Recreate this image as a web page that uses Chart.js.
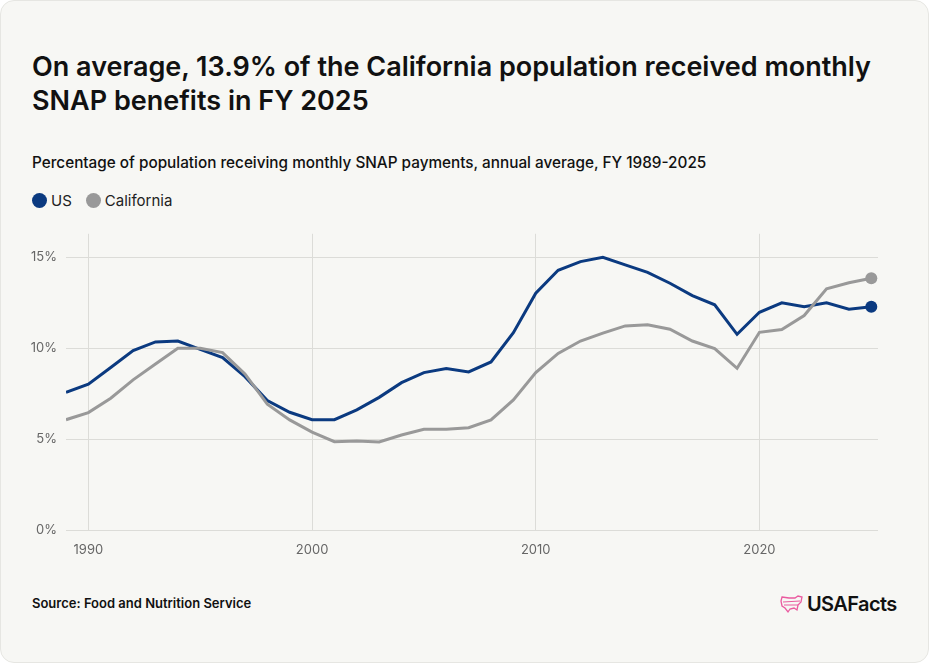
<!DOCTYPE html>
<html>
<head>
<meta charset="utf-8">
<script src="https://cdn.jsdelivr.net/npm/chart.js@4.4.1/dist/chart.umd.min.js"></script>
<style>
  html, body { margin: 0; padding: 0; background: #ffffff; }
  body { width: 929px; height: 663px; position: relative; overflow: hidden; font-family: Inter, "Noto Sans", sans-serif; }
  .card { position: absolute; left: 0; top: 0; width: 927px; height: 661px; background: #f7f7f4; border: 1px solid #e6e6e2; border-radius: 14px; }
  .title { position: absolute; left: 32px; top: 50px; width: 870px; font-size: 27px; line-height: 34px; font-weight: 600; letter-spacing: 0; color: #111; }
  .subtitle { position: absolute; left: 32px; top: 153px; font-size: 15.3px; font-weight: 500; letter-spacing: 0; color: #111; }
  .legend { position: absolute; left: 32px; top: 191px; font-size: 15px; color: #222; display: flex; align-items: center; }
  .legend .dot { width: 15px; height: 15px; border-radius: 50%; display: inline-block; margin-right: 4px; }
  .legend .item { display: flex; align-items: center; margin-right: 14px; }
  .source { position: absolute; left: 32px; top: 595px; font-size: 13px; font-weight: 600; letter-spacing: 0; color: #111; }
  .logo { position: absolute; left: 780px; top: 592px; display: flex; align-items: center; }
  .logo span { font-size: 20px; font-weight: 600; letter-spacing: -0.6px; color: #111; margin-left: 3px; }
  canvas { position: absolute; left: 0; top: 217px; }
</style>
</head>
<body>
<div class="card"></div>
<div class="title">On average, 13.9% of the California population received monthly<br>SNAP benefits in FY 2025</div>
<div class="subtitle">Percentage of population receiving monthly SNAP payments, annual average, FY 1989-2025</div>
<div class="legend">
  <div class="item"><span class="dot" style="background:#0b3a80"></span>US</div>
  <div class="item"><span class="dot" style="background:#999999"></span>California</div>
</div>
<div class="source">Source: Food and Nutrition Service</div>
<div class="logo">
  <svg width="24" height="20" viewBox="0 0 24 20">
    <path d="M2 3 L9 4 L15 4 L18 2 L22 3 L21 8 L18 11 L17 16 L14 14 L10 15 L8 18 L5 14 L2 12 L1 7 Z" fill="none" stroke="#ea5a9f" stroke-width="1.3"/>
    <path d="M3 8 L20 7 M4 11 L18 11" fill="none" stroke="#ea5a9f" stroke-width="1"/>
  </svg>
  <span>USAFacts</span>
</div>
<canvas id="chart" width="929" height="343"></canvas>
<script>
const years = []
for (let y = 1989; y <= 2025; y++) years.push(y)

const usValues = [7.58, 8.02, 8.94, 9.87, 10.35, 10.40, 9.94, 9.49, 8.44, 7.12,
  6.48, 6.07, 6.07, 6.61, 7.30, 8.11, 8.66, 8.88, 8.70, 9.25,
  10.86, 13.03, 14.29, 14.77, 15.01, 14.59, 14.18, 13.58, 12.90, 12.39,
  10.77, 11.98, 12.50, 12.28, 12.50, 12.15, 12.28]

const caValues = [6.07, 6.46, 7.25, 8.26, 9.14, 10.0, 10.0, 9.76, 8.59, 6.92,
  6.06, 5.39, 4.86, 4.90, 4.84, 5.23, 5.54, 5.54, 5.63, 6.06,
  7.16, 8.66, 9.72, 10.40, 10.83, 11.23, 11.30, 11.05, 10.40, 9.98,
  8.90, 10.88, 11.03, 11.80, 13.27, 13.61, 13.85]

const xTicks = [1990, 2000, 2010, 2020]
const yTicks = [0, 5, 10, 15]

function toPoints(values) {
  return values.map((v, i) => ({ x: years[i], y: v }))
}
const last = years.length - 1
const lastOnly = r => ctx => ctx.dataIndex === last ? r : 0

new Chart(document.getElementById("chart"), {
  type: "line",
  data: {
    datasets: [
      {
        label: "California",
        data: toPoints(caValues),
        borderColor: "#999999",
        backgroundColor: "#999999",
        borderWidth: 3,
        pointRadius: lastOnly(6),
        pointHoverRadius: 0,
        pointBorderWidth: 0,
        tension: 0
      },
      {
        label: "US",
        data: toPoints(usValues),
        borderColor: "#0b3a80",
        backgroundColor: "#0b3a80",
        borderWidth: 3,
        pointRadius: lastOnly(6),
        pointHoverRadius: 0,
        pointBorderWidth: 0,
        tension: 0
      }
    ]
  },
  options: {
    responsive: false,
    animation: false,
    layout: { padding: { top: 0, right: 51, left: 0, bottom: 0 } },
    plugins: { legend: { display: false }, tooltip: { enabled: false } },
    scales: {
      x: {
        type: "linear",
        min: 1989,
        max: 2025.3,
        afterBuildTicks: s => { s.ticks = xTicks.map(v => ({ value: v })) },
        afterFit: s => { s.height = 30 },
        grid: { color: "#dcdcd8", lineWidth: 1, drawTicks: false },
        border: { display: false },
        ticks: { color: "#666", font: { family: "Inter", size: 13 }, padding: 12, callback: v => String(v) }
      },
      y: {
        min: 0,
        max: 16.3,
        afterBuildTicks: s => { s.ticks = yTicks.map(v => ({ value: v })) },
        afterFit: s => { s.width = 66 },
        grid: { color: "#dcdcd8", lineWidth: 1, drawTicks: false },
        border: { display: false },
        ticks: { color: "#666", font: { family: "Inter", size: 13 }, padding: 9, callback: v => v + "%" }
      }
    }
  }
})
</script>
</body>
</html>
